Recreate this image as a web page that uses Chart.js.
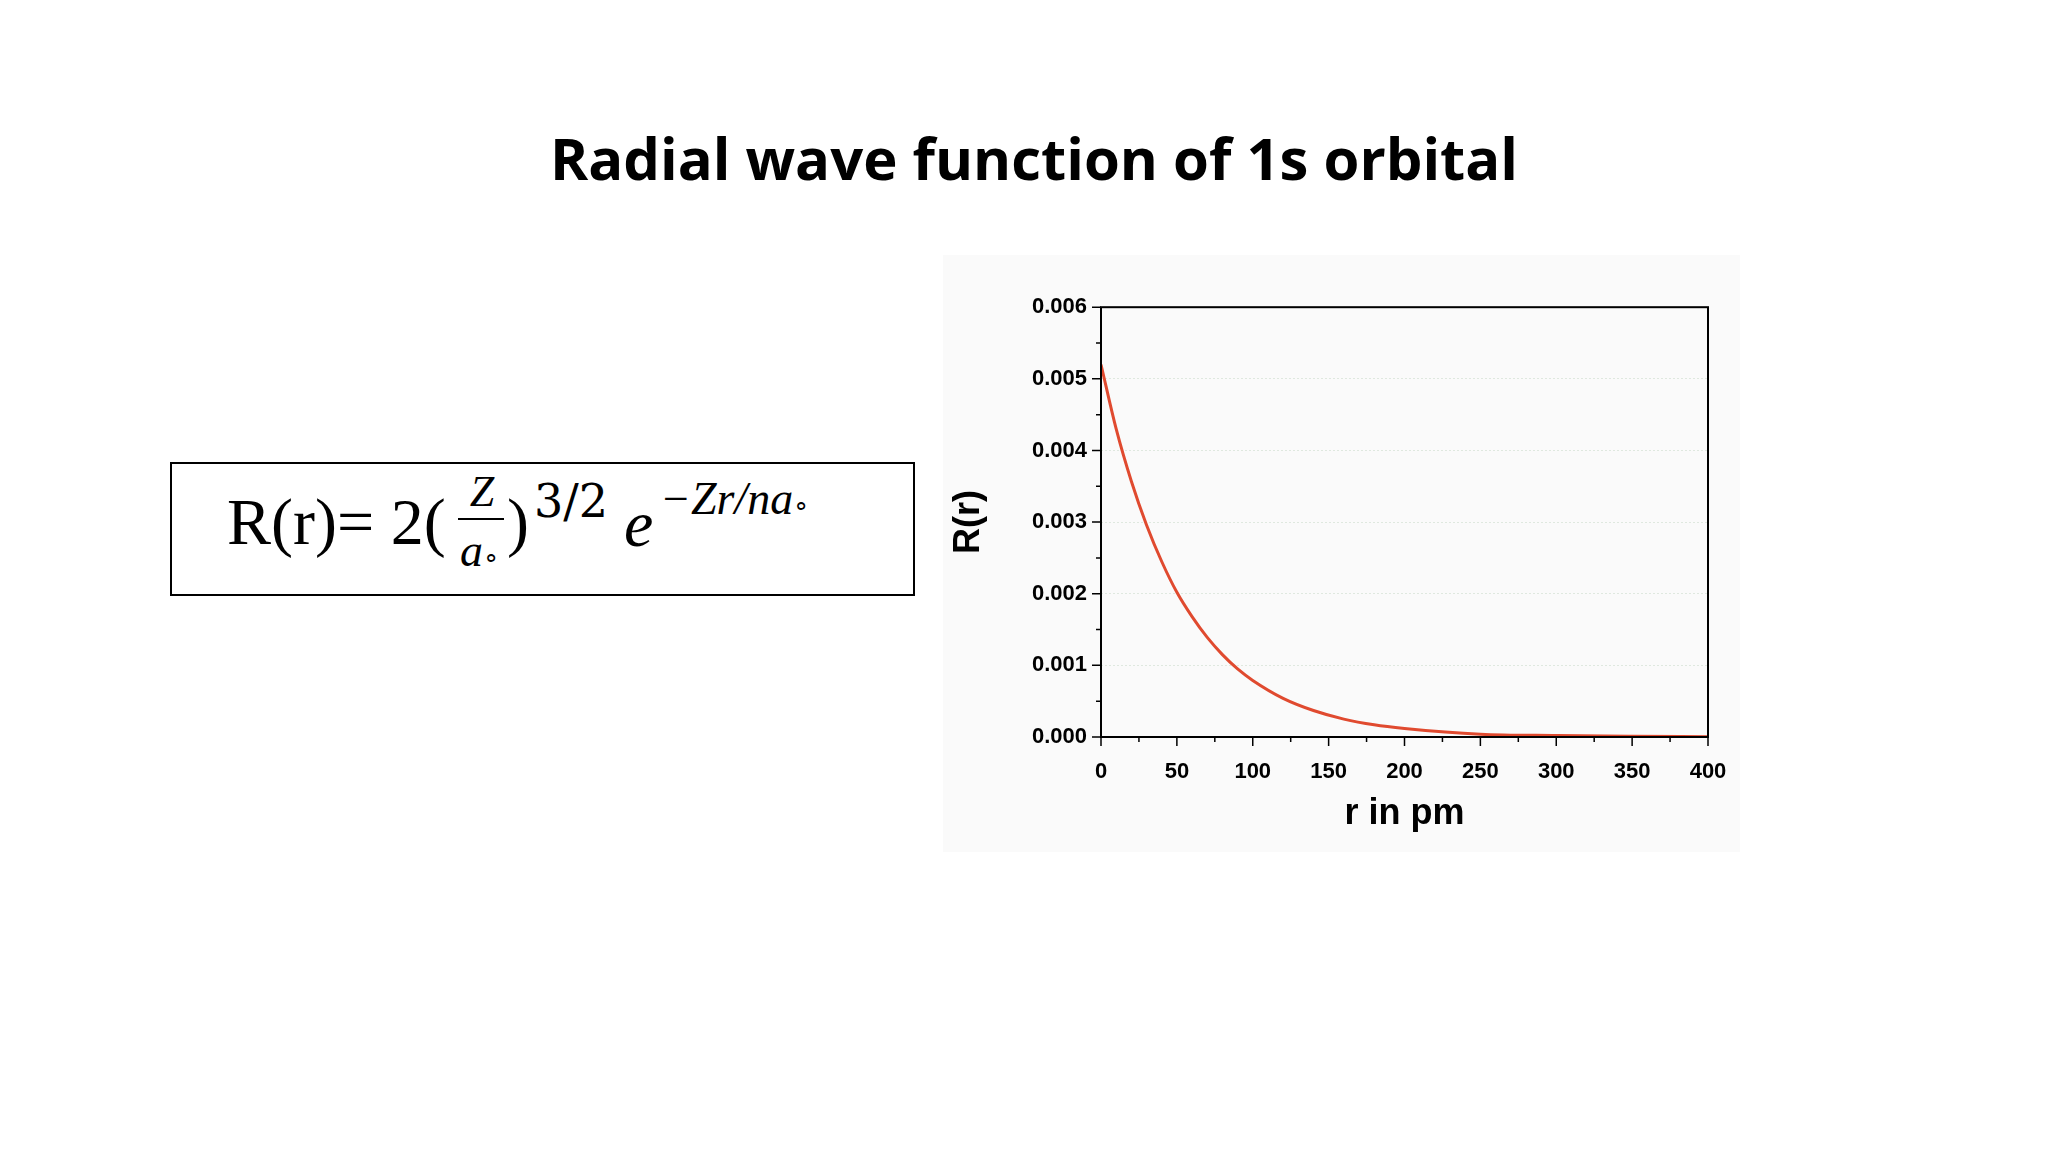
<!DOCTYPE html>
<html><head><meta charset="utf-8">
<script src="https://cdn.jsdelivr.net/npm/chart.js@4"></script>
<style>
body{margin:0;width:2048px;height:1152px;background:#fff;position:relative;overflow:hidden}
#title{position:absolute;top:118px;left:0;width:2068px;text-align:center;font:bold 58px "Open Sans",sans-serif;color:#000}
#box{position:absolute;left:170px;top:462px;width:745px;height:134px;border:2px solid #000;box-sizing:border-box;font-family:"Liberation Serif",serif;font-size:66px}
#bg{position:absolute;left:943px;top:255px;width:797px;height:597px;background:#fafafa}
#wrap{position:absolute;left:943px;top:280px;width:800px;height:560px}
</style></head><body>
<div id="title">Radial wave function of 1s orbital</div>
<div id="box">
 <div style="position:absolute;left:55px;top:20px;white-space:nowrap">R(r)= 2(</div>
 <div style="position:absolute;left:288px;top:6px;width:44px;text-align:center;font-style:italic;font-size:44px;line-height:44px">Z</div>
 <div style="position:absolute;left:286px;top:54px;width:46px;border-top:2px solid #000"></div>
 <div style="position:absolute;left:288px;top:62px;font-style:italic;font-size:46px;line-height:50px">a<span style="font-size:26px;font-style:normal">∘</span></div>
 <div style="position:absolute;left:335px;top:20px">)</div>
 <div style="position:absolute;left:362px;top:10px;font-size:46px;font-family:'DejaVu Serif',serif">3/2</div>
 <div style="position:absolute;left:452px;top:22px;font-style:italic">e</div>
 <div style="position:absolute;left:488px;top:8px;font-size:46px;font-style:italic;white-space:nowrap">−Zr/na<span style="font-size:26px;font-style:normal">∘</span></div>
</div>
<div id="bg"></div>
<div id="wrap"><canvas id="c"></canvas></div>
<script>
const rValues=[0,10,20,30,40,50,60,70,80,90,100,120,140,160,180,200,250,300,350,400];
const Rvalues=[0.0052,0.0043,0.00357,0.00296,0.00245,0.00202,0.00168,0.00139,0.00115,0.00095,0.00079,0.00054,0.00037,0.00025,0.00017,0.00012,0.00004,0.00002,0.00001,0.000005];
const xTicks=[0,50,100,150,200,250,300,350,400];
const yTicks=[0,0.001,0.002,0.003,0.004,0.005,0.006];
const tickFont={family:"Liberation Sans",weight:"bold",size:22};
const frame={id:'frame',afterDraw(ch){
 const c=ch.ctx,a=ch.chartArea,x=ch.scales.x,y=ch.scales.y;
 c.save();c.strokeStyle='#000';c.lineWidth=2;c.strokeRect(a.left,a.top,a.right-a.left,a.bottom-a.top);
 c.lineWidth=1.5;c.beginPath();
 for(let v=0;v<=400;v+=25){const p=x.getPixelForValue(v);const L=v%50===0?9:5;c.moveTo(p,a.bottom);c.lineTo(p,a.bottom+L);}
 for(let v=0;v<=0.0060001;v+=0.0005){const p=y.getPixelForValue(v);const L=Math.round(v*10000)%10===0?9:5;c.moveTo(a.left,p);c.lineTo(a.left-L,p);}
 c.stroke();c.restore();}};
new Chart(document.getElementById('c'),{type:'line',
 data:{datasets:[{data:rValues.map((r,i)=>({x:r,y:Rvalues[i]})),borderColor:'#e04a2f',borderWidth:3,pointRadius:0,cubicInterpolationMode:'monotone'}]},
 options:{responsive:true,maintainAspectRatio:false,animation:false,
  layout:{padding:{top:15,right:35,left:0,bottom:0}},
  plugins:{legend:{display:false},tooltip:{enabled:false}},
  scales:{
   x:{type:'linear',min:0,max:400,afterBuildTicks:s=>{s.ticks=xTicks.map(v=>({value:v}))},
     afterFit:s=>{s.height=103},
     grid:{display:false},border:{display:false},
     ticks:{font:tickFont,color:'#000',padding:14,maxRotation:0},
     title:{display:true,text:'r in pm',font:{family:"Liberation Sans",weight:"bold",size:36},color:'#000',padding:{top:0}}},
   y:{min:0,max:0.006,afterBuildTicks:s=>{s.ticks=yTicks.map(v=>({value:v}))},
     afterFit:s=>{s.width=158},
     grid:{color:'#dfe8df',drawTicks:false},border:{display:false,dash:[2,2]},
     ticks:{font:tickFont,color:'#000',padding:14,callback:v=>v.toFixed(3)},
     title:{display:true,text:'R(r)',font:{family:"Liberation Sans",weight:"bold",size:36},color:'#000',padding:{bottom:4}}}
  }},plugins:[frame]});
</script></body></html>
